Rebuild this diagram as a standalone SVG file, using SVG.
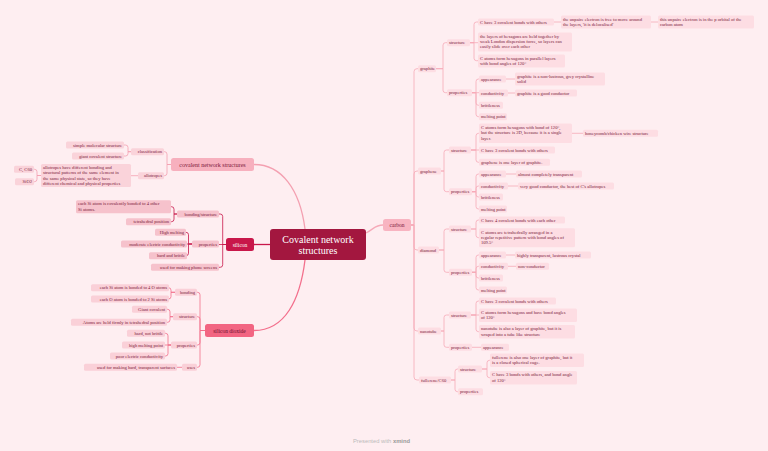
<svg xmlns="http://www.w3.org/2000/svg" width="768" height="451" viewBox="0 0 768 451">
<style>
text{font-family:"Liberation Serif","DejaVu Serif",serif;fill:#7a1a3a}
.t{font-size:4.6px}
.e{text-anchor:end}
.m{text-anchor:middle}
.lc{fill:#fddde3}
.lv{fill:#fad3da}
.ls{fill:#f6c2cc}
.ld{fill:#fad0d8}
.cc{fill:none;stroke:#f6a9b8;stroke-width:0.8}
.cv{fill:none;stroke:#f4a0b1;stroke-width:0.8}
.cs{fill:none;stroke:#c8174a;stroke-width:0.8}
.cd{fill:none;stroke:#f36f8c;stroke-width:0.8}
</style>
<rect width="768" height="451" fill="#feeef1"/>
<g id="connectors">
<path d="M366,233 C374,229 375,225 383,225" fill="none" stroke="#f6a9b8" stroke-width="1.3"/>
<path d="M305,229 C300,190 282,164.5 254,164.5" fill="none" stroke="#f4a0b1" stroke-width="1.3"/>
<path d="M254,244.5 H270" fill="none" stroke="#c8174a" stroke-width="1.3"/>
<path d="M254,330.5 C285,330.5 300,300 305,260" fill="none" stroke="#f36f8c" stroke-width="1.3"/>
<path class="cc" d="M411,225 H414 V71.7 Q414,68.7 417,68.7 H418 M411,225 H414 V174 Q414,171 417,171 H418 M411,225 H414 V247 Q414,250 417,250 H418 M411,225 H414 V328 Q414,331 417,331 H418 M411,225 H414 V377 Q414,380 417,380 H419"/>
<path class="cc" d="M436,68.7 H443 V45.2 Q443,42.7 445.5,42.7 H447 M436,68.7 H443 V90.2 Q443,92.7 445.5,92.7 H447"/>
<path class="cc" d="M470,42.7 H474 V24.5 Q474,22 476.5,22 H478 M470,42.7 H478 M470,42.7 H474 V58.2 Q474,60.7 476.5,60.7 H478 M554,22 H561 M651,22 H658"/>
<path class="cc" d="M472,92.7 H476 V81.5 Q476,79 478.5,79 H479 M472,92.7 H479 M472,92.7 H476 V102.8 Q476,105.3 478.5,105.3 H479 M472,92.7 H476 V114.2 Q476,116.7 478.5,116.7 H479 M506,79 H515 M508,93 H515"/>
<path class="cc" d="M441,171 H444 V152.5 Q444,150 446.5,150 H449 M441,171 H444 V189.2 Q444,191.7 446.5,191.7 H449"/>
<path class="cc" d="M471,150 H476 V135.8 Q476,133.3 478.5,133.3 H479 M471,150 H479 M471,150 H476 V159.8 Q476,162.3 478.5,162.3 H479 M572,133.3 H583"/>
<path class="cc" d="M472,191.7 H476 V176.5 Q476,174 478.5,174 H479 M472,191.7 H476 V188.5 Q476,186 478.5,186 H479 M472,191.7 H476 V194.5 Q476,197 478.5,197 H479 M472,191.7 H476 V206.5 Q476,209 478.5,209 H479 M506,174 H516 M508,186 H518"/>
<path class="cc" d="M439,250 H444 V231.5 Q444,229 446.5,229 H449 M439,250 H444 V269.8 Q444,272.3 446.5,272.3 H449"/>
<path class="cc" d="M471,229 H476 V222.5 Q476,220 478.5,220 H479 M471,229 H476 V235.2 Q476,237.7 478.5,237.7 H479"/>
<path class="cc" d="M472,272.3 H476 V257.5 Q476,255 478.5,255 H479 M472,272.3 H476 V268.8 Q476,266.3 478.5,266.3 H479 M472,272.3 H476 V275.5 Q476,278 478.5,278 H479 M472,272.3 H476 V287.5 Q476,290 478.5,290 H479 M506,255 H515 M508,266.3 H516"/>
<path class="cc" d="M441,331 H444 V317.5 Q444,315 446.5,315 H449 M441,331 H444 V344.8 Q444,347.3 446.5,347.3 H449"/>
<path class="cc" d="M471,315 H476 V303.5 Q476,301 478.5,301 H479 M471,315 H479 M471,315 H476 V329.2 Q476,331.7 478.5,331.7 H479 M472,347.3 H481"/>
<path class="cc" d="M451,380 H455 V371.5 Q455,369 457.5,369 H458 M451,380 H455 V389.2 Q455,391.7 457.5,391.7 H458"/>
<path class="cc" d="M482,369 H487 V362.8 Q487,360.3 489.5,360.3 H490 M482,369 H487 V375.2 Q487,377.7 489.5,377.7 H490"/>
<path class="cv" d="M171,164.5 H167 V154.2 Q167,151.7 164.5,151.7 H164 M171,164.5 H167 V173.2 Q167,175.7 164.5,175.7 H164"/>
<path class="cv" d="M131,151.7 H128 V147.5 Q128,145 125.5,145 H124 M131,151.7 H128 V153.5 Q128,156 125.5,156 H124 M138,175.7 H131"/>
<path class="cv" d="M41,175.5 H37 V171.8 Q37,169.3 34.5,169.3 H34 M41,175.5 H37 V179.2 Q37,181.7 34.5,181.7 H34"/>
<path class="cs" d="M226,244.5 H222.7 V216.5 Q222.7,214 220.2,214 H219 M226,244.5 H219 M226,244.5 H222.7 V264.8 Q222.7,267.3 220.2,267.3 H219"/>
<path class="cs" d="M177,214 H174 V209.2 Q174,206.7 171.5,206.7 H171 M177,214 H174 V219.2 Q174,221.7 171.5,221.7 H171"/>
<path class="cs" d="M192,244 H188.5 V234.8 Q188.5,232.3 186,232.3 M192,244 H187 M192,244 H188.5 V253.2 Q188.5,255.7 186,255.7 H187"/>
<path class="cd" d="M205,330.5 H200 V294.8 Q200,292.3 197.5,292.3 H197 M205,330.5 H200 V319.2 Q200,316.7 197.5,316.7 H197 M205,330.5 H200 V342.5 Q200,345 197.5,345 H197 M205,330.5 H200 V364.8 Q200,367.3 197.5,367.3 H197"/>
<path class="cd" d="M175,292.3 H171 V290.2 Q171,287.7 168.5,287.7 H169 M175,292.3 H171 V296.5 Q171,299 168.5,299 H169"/>
<path class="cd" d="M173,316.7 H170 V311.8 Q170,309.3 167.5,309.3 H167 M173,316.7 H170 V319.8 Q170,322.3 167.5,322.3 H167"/>
<path class="cd" d="M171,345 H168 V335.8 Q168,333.3 165.5,333.3 H165 M171,345 H165 M171,345 H168 V353.5 Q168,356 165.5,356 H165 M182,367.3 H177"/>
</g>
<g id="central"><rect x="270" y="229" width="96" height="31" rx="3" fill="#a3173f"/><text class="m" x="318" y="242.5" font-size="10" style="fill:#fff">Covalent network</text><text class="m" x="318" y="254.3" font-size="10" style="fill:#fff">structures</text></g>
<g id="carbon"><rect x="383" y="219" width="28" height="12" rx="2.5" fill="#f8b4c1"/><text class="m" x="397" y="227" font-size="5.5">carbon</text></g>
<g id="cns"><rect x="171" y="158" width="83" height="13" rx="2.5" fill="#f7b0be"/><text class="m" x="212.5" y="166.6" font-size="6">covalent network structures</text></g>
<g id="silicon"><rect x="226" y="238" width="28" height="13" rx="2.5" fill="#c8174a"/><text class="m" x="240" y="246.5" font-size="5.5" style="fill:#fff">silicon</text></g>
<g id="sio2"><rect x="205" y="324" width="49" height="13" rx="2.5" fill="#f26582"/><text class="m" x="229.5" y="332.5" font-size="5.5" style="fill:#6e1030">silicon dioxide</text></g>
<!-- graphite -->
<g id="graphite"><rect class="lc" x="418" y="65.2" width="18" height="7" rx="1.5"/><text class="t" x="420" y="70.2">graphite</text></g>
<g id="gt-structure"><rect class="lc" x="447" y="39.2" width="23" height="7" rx="1.5"/><text class="t" x="449" y="44.2">structure</text></g>
<g id="gt-properties"><rect class="lc" x="447" y="89.2" width="25" height="7" rx="1.5"/><text class="t" x="449" y="94.2">properties</text></g>
<g id="gt-s1"><rect class="lc" x="478" y="18.5" width="76" height="7" rx="1.5"/><text class="t" x="480" y="23.5">C have 3 covalent bonds with others</text></g>
<g id="gt-s1a"><rect class="lc" x="561" y="15.5" width="90" height="13" rx="1.5"/><text class="t" x="563" y="20.8">the unpaire electron is free to move around<tspan x="563" dy="5.4">the layers, 'it is delocalised'</tspan></text></g>
<g id="gt-s1b"><rect class="lc" x="658" y="15.5" width="96" height="13" rx="1.5"/><text class="t" x="660" y="20.8">this unpaire electron is in the p orbital of the<tspan x="660" dy="5.4">carbon atom</tspan></text></g>
<g id="gt-s2"><rect class="lc" x="478" y="32.5" width="94" height="19" rx="1.5"/><text class="t" x="480" y="37.6">the layers of hexagons are held together by<tspan x="480" dy="5.4">weak London dispersion force, so layers can</tspan><tspan x="480" dy="5.4">easily slide over each other</tspan></text></g>
<g id="gt-s3"><rect class="lc" x="478" y="54.5" width="87" height="13" rx="1.5"/><text class="t" x="480" y="59.8">C atoms form hexagons in parallel layers<tspan x="480" dy="5.4">with bond angles of 120°</tspan></text></g>
<g id="gt-p1"><rect class="lc" x="479" y="75.5" width="27" height="7" rx="1.5"/><text class="t" x="481" y="80.5">appearance</text></g>
<g id="gt-p1a"><rect class="lc" x="515" y="72.5" width="90" height="13" rx="1.5"/><text class="t" x="517" y="77.8">graphite is a non-lustrous, grey crystalline<tspan x="517" dy="5.4">solid</tspan></text></g>
<g id="gt-p2"><rect class="lc" x="479" y="89.5" width="29" height="7" rx="1.5"/><text class="t" x="481" y="94.5">conductivity</text></g>
<g id="gt-p2a"><rect class="lc" x="515" y="89.5" width="62" height="7" rx="1.5"/><text class="t" x="517" y="94.5">graphite is a good conductor</text></g>
<g id="gt-p3"><rect class="lc" x="479" y="101.8" width="24" height="7" rx="1.5"/><text class="t" x="481" y="106.8">brittleness</text></g>
<g id="gt-p4"><rect class="lc" x="479" y="113.2" width="28" height="7" rx="1.5"/><text class="t" x="481" y="118.2">melting point</text></g>
<!-- graphene -->
<g id="graphene"><rect class="lc" x="418" y="167.5" width="23" height="7" rx="1.5"/><text class="t" x="420" y="172.5">graphene</text></g>
<g id="ge-structure"><rect class="lc" x="449" y="146.5" width="22" height="7" rx="1.5"/><text class="t" x="451" y="151.5">structure</text></g>
<g id="ge-properties"><rect class="lc" x="449" y="188.2" width="23" height="7" rx="1.5"/><text class="t" x="451" y="193.2">properties</text></g>
<g id="ge-s1"><rect class="lc" x="479" y="123.5" width="93" height="19.5" rx="1.5"/><text class="t" x="481" y="128.8">C atoms form hexagons with bond of 120°,<tspan x="481" dy="5.6">but the structure is 2D, because it is a single</tspan><tspan x="481" dy="5.6">layer.</tspan></text></g>
<g id="ge-s1a"><rect class="lc" x="583" y="129.8" width="75" height="7" rx="1.5"/><text class="t" x="585" y="134.8">honeycomb/chicken wire structure</text></g>
<g id="ge-s2"><rect class="lc" x="479" y="146.5" width="76" height="7" rx="1.5"/><text class="t" x="481" y="151.5">C have 3 covalent bonds with others</text></g>
<g id="ge-s3"><rect class="lc" x="479" y="158.8" width="71" height="7" rx="1.5"/><text class="t" x="481" y="163.8">graphene is one layer of graphite.</text></g>
<g id="ge-p1"><rect class="lc" x="479" y="170.5" width="27" height="7" rx="1.5"/><text class="t" x="481" y="175.5">appearance</text></g>
<g id="ge-p1a"><rect class="lc" x="516" y="170.5" width="66" height="7" rx="1.5"/><text class="t" x="518" y="175.5">almost completely transparent</text></g>
<g id="ge-p2"><rect class="lc" x="479" y="182.5" width="29" height="7" rx="1.5"/><text class="t" x="481" y="187.5">conductivity</text></g>
<g id="ge-p2a"><rect class="lc" x="518" y="182.5" width="96" height="7" rx="1.5"/><text class="t" x="520" y="187.5">very good conductor, the best of C's allotropes</text></g>
<g id="ge-p3"><rect class="lc" x="479" y="193.5" width="24" height="7" rx="1.5"/><text class="t" x="481" y="198.5">brittleness</text></g>
<g id="ge-p4"><rect class="lc" x="479" y="205.5" width="28" height="7" rx="1.5"/><text class="t" x="481" y="210.5">melting point</text></g>
<!-- diamond -->
<g id="diamond"><rect class="lc" x="418" y="246.5" width="21" height="7" rx="1.5"/><text class="t" x="420" y="251.5">diamond</text></g>
<g id="di-structure"><rect class="lc" x="449" y="225.5" width="22" height="7" rx="1.5"/><text class="t" x="451" y="230.5">structure</text></g>
<g id="di-properties"><rect class="lc" x="449" y="268.8" width="23" height="7" rx="1.5"/><text class="t" x="451" y="273.8">properties</text></g>
<g id="di-s1"><rect class="lc" x="479" y="216.5" width="86" height="7" rx="1.5"/><text class="t" x="481" y="221.5">C have 4 covalent bonds with each other</text></g>
<g id="di-s2"><rect class="lc" x="479" y="228.2" width="96" height="19" rx="1.5"/><text class="t" x="481" y="233.6">C atoms are tetrahedrally arranged in a<tspan x="481" dy="5.4">regular repetitive pattern with bond angles of</tspan><tspan x="481" dy="5.4">109.5°</tspan></text></g>
<g id="di-p1"><rect class="lc" x="479" y="251.5" width="27" height="7" rx="1.5"/><text class="t" x="481" y="256.5">appearance</text></g>
<g id="di-p1a"><rect class="lc" x="515" y="251.5" width="76" height="7" rx="1.5"/><text class="t" x="517" y="256.5">highly transparent, lustrous crystal</text></g>
<g id="di-p2"><rect class="lc" x="479" y="262.8" width="29" height="7" rx="1.5"/><text class="t" x="481" y="267.8">conductivity</text></g>
<g id="di-p2a"><rect class="lc" x="516" y="262.8" width="33" height="7" rx="1.5"/><text class="t" x="518" y="267.8">non-conductor</text></g>
<g id="di-p3"><rect class="lc" x="479" y="274.5" width="24" height="7" rx="1.5"/><text class="t" x="481" y="279.5">brittleness</text></g>
<g id="di-p4"><rect class="lc" x="479" y="286.5" width="28" height="7" rx="1.5"/><text class="t" x="481" y="291.5">melting point</text></g>
<!-- nanotube -->
<g id="nanotube"><rect class="lc" x="418" y="327.5" width="23" height="7" rx="1.5"/><text class="t" x="420" y="332.5">nanotube</text></g>
<g id="nt-structure"><rect class="lc" x="449" y="311.5" width="22" height="7" rx="1.5"/><text class="t" x="451" y="316.5">structure</text></g>
<g id="nt-properties"><rect class="lc" x="449" y="343.8" width="23" height="7" rx="1.5"/><text class="t" x="451" y="348.8">properties</text></g>
<g id="nt-s1"><rect class="lc" x="479" y="297.5" width="77" height="7" rx="1.5"/><text class="t" x="481" y="302.5">C have 3 covalent bonds with others</text></g>
<g id="nt-s2"><rect class="lc" x="479" y="308.5" width="98" height="13.5" rx="1.5"/><text class="t" x="481" y="313.8">C atoms form hexagons and have bond angles<tspan x="481" dy="5.6">of 120°</tspan></text></g>
<g id="nt-s3"><rect class="lc" x="479" y="325" width="96" height="13.5" rx="1.5"/><text class="t" x="481" y="330.3">nanotube is also a layer of graphite, but it is<tspan x="481" dy="5.6">wraped into a tube like structure</tspan></text></g>
<g id="nt-p1"><rect class="lc" x="481" y="343.8" width="28" height="7" rx="1.5"/><text class="t" x="483" y="348.8">appearance</text></g>
<!-- fullerene -->
<g id="fullerene"><rect class="lc" x="419" y="376.5" width="32" height="7" rx="1.5"/><text class="t" x="421" y="381.5">fullerene/C60</text></g>
<g id="fu-structure"><rect class="lc" x="458" y="365.5" width="24" height="7" rx="1.5"/><text class="t" x="460" y="370.5">structure</text></g>
<g id="fu-properties"><rect class="lc" x="458" y="388.2" width="25" height="7" rx="1.5"/><text class="t" x="460" y="393.2">properties</text></g>
<g id="fu-s1"><rect class="lc" x="490" y="353.5" width="94" height="13.5" rx="1.5"/><text class="t" x="492" y="358.8">fullerene is also one layer of graphite, but it<tspan x="492" dy="5.6">is a closed spherical cage.</tspan></text></g>
<g id="fu-s2"><rect class="lc" x="490" y="371" width="87" height="13.5" rx="1.5"/><text class="t" x="492" y="376.3">C have 3 bonds with others, and bond angle<tspan x="492" dy="5.6">of 120°</tspan></text></g>
<!-- covalent network structures subtree -->
<g id="cn-class"><rect class="lv" x="131" y="148.2" width="33" height="7" rx="1.5"/><text class="t e" x="162" y="153.2">classification</text></g>
<g id="cn-allo"><rect class="lv" x="138" y="172.2" width="26" height="7" rx="1.5"/><text class="t e" x="162" y="177.2">allotropes</text></g>
<g id="cn-simple"><rect class="lv" x="66" y="141.5" width="58" height="7" rx="1.5"/><text class="t e" x="122" y="146.5">simple molecular structure</text></g>
<g id="cn-giant"><rect class="lv" x="72" y="152.5" width="52" height="7" rx="1.5"/><text class="t e" x="122" y="157.5">giant covalent structure</text></g>
<g id="cn-desc"><rect class="lv" x="41" y="164" width="90" height="23" rx="1.5"/><text class="t" x="43" y="169">allotropes have different bonding and<tspan x="43" dy="5.3">structural patterns of the same element in</tspan><tspan x="43" dy="5.3">the same physical state, so they have</tspan><tspan x="43" dy="5.3">different chemical and physical properties</tspan></text></g>
<g id="cn-c"><rect class="lv" x="14" y="165.8" width="20" height="7" rx="1.5"/><text class="t e" x="32" y="170.8">C, C60</text></g>
<g id="cn-sio2"><rect class="lv" x="15" y="178.2" width="19" height="7" rx="1.5"/><text class="t e" x="32" y="183.2">SiO2</text></g>
<!-- silicon subtree -->
<g id="si-bond"><rect class="ls" x="177" y="210.5" width="42" height="7" rx="1.5"/><text class="t e" x="217" y="215.5">bonding/structure</text></g>
<g id="si-prop"><rect class="ls" x="192" y="240.5" width="27" height="7" rx="1.5"/><text class="t e" x="217" y="245.5">properties</text></g>
<g id="si-use"><rect class="ls" x="151" y="263.8" width="68" height="7" rx="1.5"/><text class="t e" x="217" y="268.8">used for making phone screens</text></g>
<g id="si-b1"><rect class="ls" x="76" y="200.2" width="95" height="13" rx="1.5"/><text class="t" x="78" y="205.4">each Si atom is covalently bonded to 4 other<tspan x="78" dy="5.4">Si atoms.</tspan></text></g>
<g id="si-b2"><rect class="ls" x="126" y="218.2" width="45" height="7" rx="1.5"/><text class="t e" x="169" y="223.2">tetrahedral position</text></g>
<g id="si-p1"><rect class="ls" x="155" y="228.8" width="31" height="7" rx="1.5"/><text class="t e" x="184" y="233.8">High melting</text></g>
<g id="si-p2"><rect class="ls" x="121" y="240.5" width="66" height="7" rx="1.5"/><text class="t e" x="185" y="245.5">moderate electric conductivity</text></g>
<g id="si-p3"><rect class="ls" x="149" y="252.2" width="38" height="7" rx="1.5"/><text class="t e" x="185" y="257.2">hard and brittle</text></g>
<!-- silicon dioxide subtree -->
<g id="sd-bond"><rect class="ld" x="175" y="288.8" width="22" height="7" rx="1.5"/><text class="t e" x="195" y="293.8">bonding</text></g>
<g id="sd-struct"><rect class="ld" x="173" y="313.2" width="24" height="7" rx="1.5"/><text class="t e" x="195" y="318.2">structure</text></g>
<g id="sd-prop"><rect class="ld" x="171" y="341.5" width="26" height="7" rx="1.5"/><text class="t e" x="195" y="346.5">properties</text></g>
<g id="sd-uses"><rect class="ld" x="182" y="363.8" width="15" height="7" rx="1.5"/><text class="t e" x="195" y="368.8">uses</text></g>
<g id="sd-b1"><rect class="ld" x="91" y="284.2" width="78" height="7" rx="1.5"/><text class="t e" x="167" y="289.2">each Si atom is bonded to 4 O atoms</text></g>
<g id="sd-b2"><rect class="ld" x="91" y="295.5" width="78" height="7" rx="1.5"/><text class="t e" x="167" y="300.5">each O atom is bonded to 2 Si atoms</text></g>
<g id="sd-s1"><rect class="ld" x="132" y="305.8" width="35" height="7" rx="1.5"/><text class="t e" x="165" y="310.8">Giant covalent</text></g>
<g id="sd-s2"><rect class="ld" x="71" y="318.8" width="96" height="7" rx="1.5"/><text class="t e" x="165" y="323.8">Atoms are held firmly in tetrahedral position</text></g>
<g id="sd-p1"><rect class="ld" x="127" y="329.8" width="38" height="7" rx="1.5"/><text class="t e" x="163" y="334.8">hard, not brittle</text></g>
<g id="sd-p2"><rect class="ld" x="122" y="341.5" width="43" height="7" rx="1.5"/><text class="t e" x="163" y="346.5">high melting point</text></g>
<g id="sd-p3"><rect class="ld" x="110" y="352.5" width="55" height="7" rx="1.5"/><text class="t e" x="163" y="357.5">poor electric conductivity</text></g>
<g id="sd-u1"><rect class="ld" x="84" y="363.8" width="93" height="7" rx="1.5"/><text class="t e" x="175" y="368.8">used for making hard, transparent surfaces</text></g>
<text x="353" y="443" font-size="5.8" style="font-family:'Liberation Sans',sans-serif;fill:#bbb">Presented with <tspan font-weight="bold" style="fill:#999">xmind</tspan></text>
</svg>
